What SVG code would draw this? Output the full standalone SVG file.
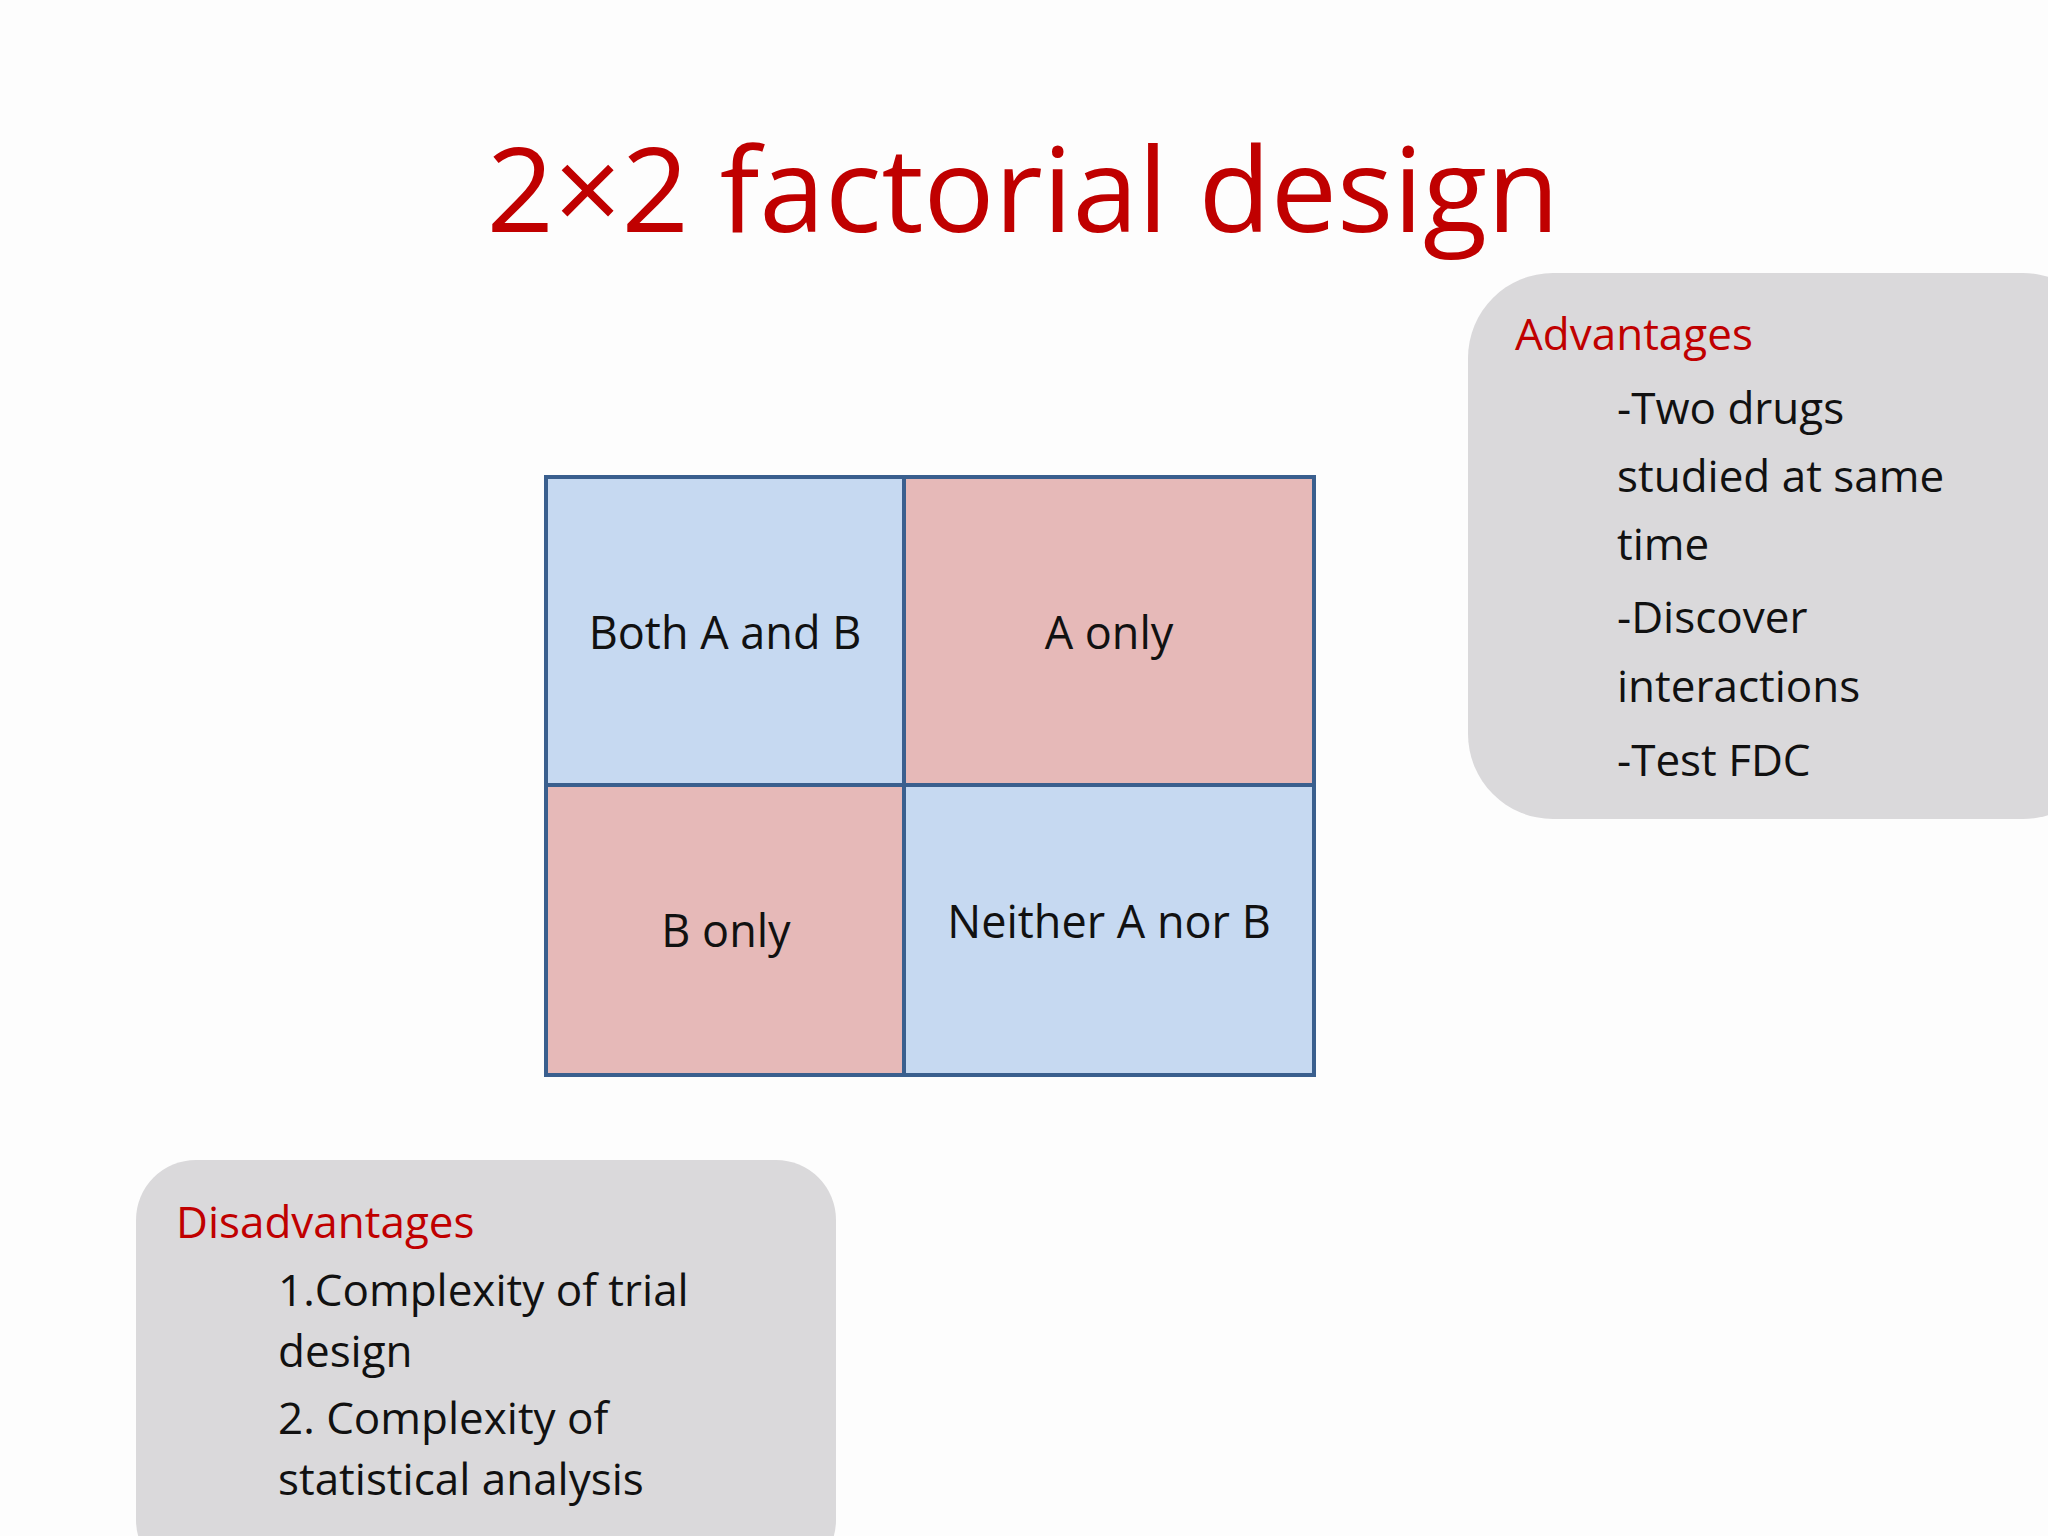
<svg xmlns="http://www.w3.org/2000/svg" width="2048" height="1536" viewBox="0 0 2048 1536">
<style>
text{font-family:"Open Sans","Noto Sans",sans-serif;}
.red{fill:#C00000}
.blk{fill:#111}
.cell{stroke:#3A5F8E;stroke-width:4}
.box{fill:#DAD9DB}
.t{font-size:44px}
.c{font-size:45px;text-anchor:middle}
</style>
<rect width="2048" height="1536" fill="#FDFDFD"/>
<text x="1023" y="232" class="red" font-size="118" text-anchor="middle">2×2 factorial design</text>
<g id="grid">
<rect class="cell" x="546" y="477" width="358" height="308" fill="#C6D9F1"/>
<rect class="cell" x="904" y="477" width="410" height="308" fill="#E6B9B8"/>
<rect class="cell" x="546" y="785" width="358" height="290" fill="#E6B9B8"/>
<rect class="cell" x="904" y="785" width="410" height="290" fill="#C6D9F1"/>
<text x="725" y="649" class="c blk">Both A and B</text>
<text x="1109" y="649" class="c blk">A only</text>
<text x="726" y="947" class="c blk">B only</text>
<text x="1109" y="938" class="c blk">Neither A nor B</text>
</g>
<g id="advantages">
<rect class="box" x="1468" y="273" width="640" height="546" rx="85"/>
<text x="1515" y="350" class="t red" font-size="48">Advantages</text>
<text class="t blk" x="1617" y="424">-Two drugs</text>
<text class="t blk" x="1617" y="492">studied at same</text>
<text class="t blk" x="1617" y="560">time</text>
<text class="t blk" x="1617" y="633">-Discover</text>
<text class="t blk" x="1617" y="702">interactions</text>
<text class="t blk" x="1617" y="776">-Test FDC</text>
</g>
<g id="disadvantages">
<rect class="box" x="136" y="1160" width="700" height="420" rx="60"/>
<text x="176" y="1238" class="t red" font-size="48">Disadvantages</text>
<text class="t blk" x="278" y="1306">1.Complexity of trial</text>
<text class="t blk" x="278" y="1367">design</text>
<text class="t blk" x="278" y="1434">2.  Complexity of</text>
<text class="t blk" x="278" y="1495">statistical analysis</text>
</g>
<g id="connectors"/>
</svg>
